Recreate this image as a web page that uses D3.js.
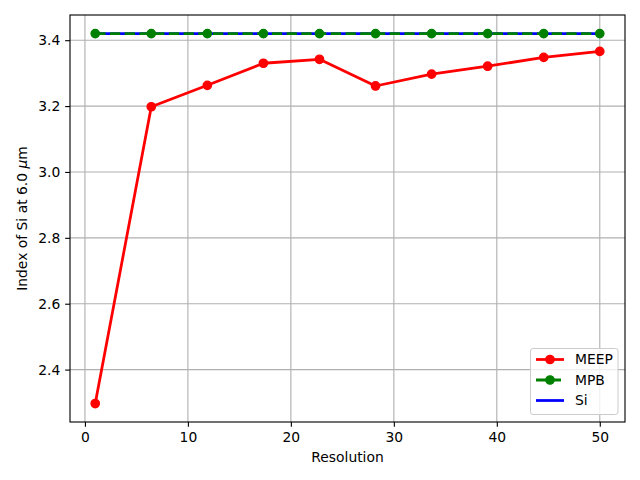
<!DOCTYPE html>
<html>
<head>
<meta charset="utf-8">
<script src="https://cdn.jsdelivr.net/npm/d3@7"></script>
<style>
  body { margin: 0; background: #fff; }
  text { font-family: "DejaVu Sans", sans-serif; }
</style>
</head>
<body>
<div id="chart"></div>
<script>
// resolution values (linspace 1..50)
const resolution = [1, 6.444, 11.889, 17.333, 22.778, 28.222, 33.667, 39.111, 44.556, 50];
const meep = [2.297, 3.198, 3.263, 3.330, 3.342, 3.261, 3.297, 3.321, 3.348, 3.366];
const mpb = [3.420, 3.420, 3.420, 3.420, 3.420, 3.420, 3.420, 3.420, 3.420, 3.420];
const si = [3.420, 3.420, 3.420, 3.420, 3.420, 3.420, 3.420, 3.420, 3.420, 3.420];
const xTicks = [0, 10, 20, 30, 40, 50];
const yTicks = [2.4, 2.6, 2.8, 3.0, 3.2, 3.4];
const legendNames = ['MEEP', 'MPB', 'Si'];

const W = 640, H = 480;
const margin = { top: 15, right: 15, bottom: 58, left: 70 };
const pt = 100 / 72;

const svg = d3.select('#chart')
    .append('svg')
        .attr('width', W)
        .attr('height', H);

// Scales with matplotlib-like 5% padding
const x = d3.scaleLinear()
    .domain([-1.45, 52.45])
    .range([margin.left, W - margin.right]);
const y = d3.scaleLinear()
    .domain([2.2409, 3.4765])
    .range([H - margin.bottom, margin.top]);

const fs = 10 * pt;

// Grid
svg.append('g')
    .selectAll('line')
    .data(xTicks)
    .enter()
    .append('line')
        .attr('x1', d => x(d)).attr('x2', d => x(d))
        .attr('y1', margin.top).attr('y2', H - margin.bottom)
        .attr('stroke', '#b0b0b0')
        .attr('stroke-width', 0.8 * pt);
svg.append('g')
    .selectAll('line')
    .data(yTicks)
    .enter()
    .append('line')
        .attr('y1', d => y(d)).attr('y2', d => y(d))
        .attr('x1', margin.left).attr('x2', W - margin.right)
        .attr('stroke', '#b0b0b0')
        .attr('stroke-width', 0.8 * pt);

// Axes
const xAxis = svg.append('g')
    .attr('transform', `translate(0,${H - margin.bottom})`)
    .call(d3.axisBottom(x).tickValues(xTicks).tickFormat(d3.format('d'))
        .tickSizeInner(3.5 * pt).tickSizeOuter(0).tickPadding(3.5 * pt));
const yAxis = svg.append('g')
    .attr('transform', `translate(${margin.left},0)`)
    .call(d3.axisLeft(y).tickValues(yTicks).tickFormat(d3.format('.1f'))
        .tickSizeInner(3.5 * pt).tickSizeOuter(0).tickPadding(3.5 * pt));
[xAxis, yAxis].forEach(a => {
    a.select('.domain').remove();
    a.selectAll('line').attr('stroke', '#000').attr('stroke-width', 0.8 * pt);
    a.selectAll('text')
        .attr('fill', '#000')
        .style('font-size', fs + 'px')
        .style('font-family', '"DejaVu Sans", sans-serif');
});

const line = d3.line()
    .x(d => x(d[0]))
    .y(d => y(d[1]));

// Si (drawn below MPB)
svg.append('path')
    .datum(resolution.map((r, i) => [r, si[i]]))
    .attr('d', line)
    .attr('fill', 'none')
    .attr('stroke', 'blue')
    .attr('stroke-width', 2 * pt);

// MEEP
const meepData = resolution.map((r, i) => [r, meep[i]]);
svg.append('path')
    .datum(meepData)
    .attr('d', line)
    .attr('fill', 'none')
    .attr('stroke', 'red')
    .attr('stroke-width', 2 * pt)
    .attr('stroke-linejoin', 'round');
svg.append('g')
    .selectAll('circle')
    .data(meepData)
    .enter()
    .append('circle')
        .attr('cx', d => x(d[0]))
        .attr('cy', d => y(d[1]))
        .attr('r', 3 * pt)
        .attr('fill', 'red')
        .attr('stroke', 'red')
        .attr('stroke-width', pt);

// MPB
const mpbData = resolution.map((r, i) => [r, mpb[i]]);
svg.append('path')
    .datum(mpbData)
    .attr('d', line)
    .attr('fill', 'none')
    .attr('stroke', 'green')
    .attr('stroke-width', 2 * pt)
    .attr('stroke-dasharray', `${7.4 * pt},${3.2 * pt}`);
svg.append('g')
    .selectAll('circle')
    .data(mpbData)
    .enter()
    .append('circle')
        .attr('cx', d => x(d[0]))
        .attr('cy', d => y(d[1]))
        .attr('r', 3 * pt)
        .attr('fill', 'green')
        .attr('stroke', 'green')
        .attr('stroke-width', pt);

// Frame
svg.append('rect')
    .attr('x', margin.left)
    .attr('y', margin.top)
    .attr('width', W - margin.left - margin.right)
    .attr('height', H - margin.top - margin.bottom)
    .attr('fill', 'none')
    .attr('stroke', '#000')
    .attr('stroke-width', 0.8 * pt);

// Axis labels
svg.append('text')
    .attr('x', (margin.left + W - margin.right) / 2)
    .attr('y', 462)
    .attr('text-anchor', 'middle')
    .style('font-size', fs + 'px')
    .text('Resolution');
const yl = svg.append('text')
    .attr('transform', `translate(27,${(margin.top + H - margin.bottom) / 2}) rotate(-90)`)
    .attr('text-anchor', 'middle')
    .style('font-size', fs + 'px');
yl.append('tspan').text('Index of Si at 6.0 ');
yl.append('tspan').style('font-style', 'italic').text('μ');
yl.append('tspan').text('m');

// Legend
const colors = ['red', 'green', 'blue'];
const lg = svg.append('g').attr('transform', 'translate(530.5,348.5)');
lg.append('rect')
    .attr('width', 87.5)
    .attr('height', 66)
    .attr('rx', 2.5)
    .attr('fill', 'white')
    .attr('fill-opacity', 0.8)
    .attr('stroke', '#cccccc')
    .attr('stroke-width', 1);
const rows = lg.selectAll('.row')
    .data(legendNames)
    .enter()
    .append('g')
        .attr('transform', (d, i) => `translate(0,${11 + i * 20.5})`);
rows.append('line')
    .attr('x1', 5.5).attr('x2', 33.5)
    .attr('stroke', (d, i) => colors[i])
    .attr('stroke-width', 2 * pt)
    .attr('stroke-dasharray', (d, i) => i === 1 ? `${7.4 * pt},${3.2 * pt}` : null);
rows.filter((d, i) => i < 2)
    .append('circle')
        .attr('cx', 19.5)
        .attr('r', 3 * pt)
        .attr('fill', (d, i) => colors[i])
        .attr('stroke', (d, i) => colors[i])
        .attr('stroke-width', pt);
rows.append('text')
    .attr('x', 44.5)
    .attr('dy', '0.35em')
    .style('font-size', fs + 'px')
    .text(d => d);
</script>
</body>
</html>
